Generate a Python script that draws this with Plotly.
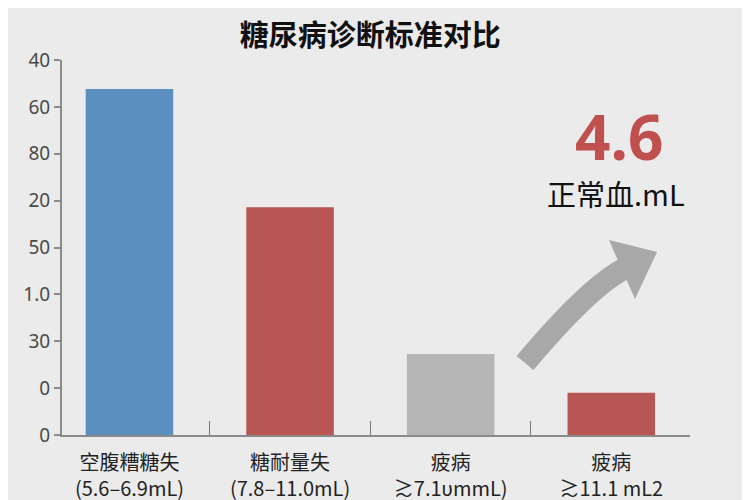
import plotly.graph_objects as go

# data
categories = ["空腹糟糖失<br>(5.6–6.9mL)", "糖耐量失<br>(7.8–11.0mL)",
              "疲病<br>≳7.1υmmL)", "疲病<br>≳11.1 mL2"]
values = [7.38, 4.86, 1.73, 0.9]
bar_colors = ["#5b8fc0", "#b75652", "#b5b5b5", "#b75652"]
y_tickvals = [0, 1, 2, 3, 4, 5, 6, 7, 8]
y_ticktext = ["0", "0", "30", "1.0", "50", "20", "80", "60", "40"]

fig = go.Figure(data=go.Bar(x=categories, y=values, marker_color=bar_colors,
                            marker_line_width=0, width=0.545))

# the page body adds ~8px offset, margins compensate for it
fig.update_layout(
    width=750, height=500,
    margin=dict(l=54, r=68, t=52, b=73, autoexpand=False),
    paper_bgcolor="#ebebeb", plot_bgcolor="#ebebeb",
    showlegend=False,
    title=dict(text="糖尿病诊断标准对比", x=0.483, y=0.944, xanchor="center",
               yanchor="middle",
               font=dict(family="Noto Sans CJK SC", size=29, color="#111", weight=700)),
    font=dict(family="Noto Sans CJK SC"),
)
fig.update_xaxes(type="category", range=[-0.42, 3.49], showgrid=False,
                 automargin=False,
                 showline=True, linecolor="#8a8a8a", linewidth=1.5,
                 ticks="inside", tickson="boundaries", ticklen=14,
                 tickcolor="#777", tickwidth=1, ticklabelstandoff=9,
                 tickfont=dict(size=20, color="#222"))
fig.update_yaxes(range=[0, 8], showgrid=False, zeroline=False, automargin=False,
                 showline=True, linecolor="#8a8a8a", linewidth=2,
                 ticks="outside", ticklen=6, tickcolor="#8a8a8a", tickwidth=2,
                 tickvals=y_tickvals, ticktext=y_ticktext,
                 tickfont=dict(family="Noto Sans", size=19, color="#4a4a4a"))

# curved gray arrow (decoration)
fig.add_shape(type="path", xref="paper", yref="paper",
              path="M 0.7373 0.192 Q 0.8392 0.3947 0.8949 0.4427",
              line=dict(color="#a8a8a8", width=22))
fig.add_shape(type="path", xref="paper", yref="paper",
              path="M 0.8710 0.52 L 0.9475 0.488 L 0.9124 0.3627 Z",
              fillcolor="#a8a8a8", line=dict(width=0))

fig.add_annotation(text="<b>4.6</b>", xref="paper", yref="paper", x=0.887, y=0.797,
                   xanchor="center", yanchor="middle", showarrow=False,
                   font=dict(family="Noto Sans", size=62, color="#c0504d"))
fig.add_annotation(text="正常血.mL", xref="paper", yref="paper", x=0.882, y=0.646,
                   xanchor="center", yanchor="middle", showarrow=False,
                   font=dict(family="Noto Sans CJK SC", size=29, color="#111"))

fig.write_html("out.html")
